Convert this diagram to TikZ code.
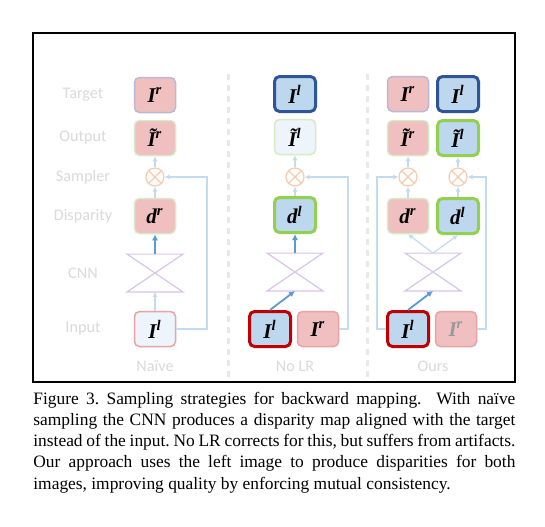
\documentclass[tikz,border=0pt]{standalone}
\usepackage{fontspec}
\setmainfont{Liberation Serif}
\newfontfamily\lblfont{Carlito}
\usetikzlibrary{arrows.meta}
\definecolor{pinkf}{HTML}{F0BFBF}
\definecolor{lbluef}{HTML}{BDD7EE}
\definecolor{palebf}{HTML}{EEF4FB}
\definecolor{greenB}{HTML}{92D050}
\definecolor{paleGB}{HTML}{D6EAC6}
\definecolor{redB}{HTML}{C00000}
\definecolor{lredB}{HTML}{E9A3A3}
\definecolor{dblueB}{HTML}{2F5597}
\definecolor{lavB}{HTML}{B9B9D6}
\definecolor{arrL}{HTML}{C3DBF0}
\definecolor{arrM}{HTML}{5B9BD5}
\definecolor{sampC}{HTML}{F8CBAD}
\definecolor{cnnC}{HTML}{D9C4EA}
\definecolor{lblC}{HTML}{DADADA}
\definecolor{dashC}{HTML}{E8E8E8}
\tikzset{
  imgbox/.style={rounded corners=2.5pt, minimum width=20.5pt, minimum height=17.5pt, inner sep=0pt, line width=0.75pt, font=\fontsize{10.5}{12}\selectfont\bfseries\itshape},
  thickb/.style={line width=1.5pt},
  sampler/.style={circle, draw=sampC, fill=white, line width=0.6pt, minimum size=9pt, inner sep=0pt},
  cnn/.style={minimum width=27.5pt, minimum height=18.5pt, inner sep=0pt},
  rowlbl/.style={font=\lblfont\fontsize{8.1}{9}\selectfont, text=lblC},
  lightarr/.style={draw=arrL, line width=0.6pt, -{Latex[length=2.5pt,width=2.5pt]}},
  medarr/.style={draw=arrM, line width=0.9pt, -{Latex[length=3pt,width=3pt]}},
  sep/.style={draw=dashC, line width=1.5pt, dash pattern=on 3pt off 2.5pt},
}
\newcommand{\drawsampler}[1]{\draw[sampC, line width=0.6pt] (#1.45)--(#1.225) (#1.135)--(#1.315);}
\newcommand{\drawcnn}[1]{\draw[cnnC, line width=0.6pt] (#1.north west)--(#1.north east)--(#1.south west)--(#1.south east)--cycle;}
\begin{document}
\begin{tikzpicture}[x=0.5pt,y=-0.5pt]
\useasboundingbox (0,0) rectangle (545,526);
\fill[white] (0,0) rectangle (545,526);
% frame
\draw[line width=1pt] (33,33) rectangle (515,382);
% separators
\draw[sep] (228,74) -- (228,381);
\draw[sep] (367,74) -- (367,381);
% row labels
\node[rowlbl] (lT) at (83,95) {Target};
\node[rowlbl] (lO) at (83,138) {Output};
\node[rowlbl] (lS) at (83,177) {Sampler};
\node[rowlbl] (lD) at (83,216) {Disparity};
\node[rowlbl] (lC) at (83,273) {CNN};
\node[rowlbl] (lI) at (83,329) {Input};
% column labels
\node[rowlbl] (cN) at (155,366) {Naïve};
\node[rowlbl] (cL) at (295,366) {No LR};
\node[rowlbl] (cO) at (433,366) {Ours};

%%%% Naive
\node[imgbox, draw=lavB, fill=pinkf] (nT) at (155,95) {I\textsuperscript{r}};
\node[imgbox, draw=paleGB, fill=pinkf] (nO) at (155,138) {\~{I}\textsuperscript{r}};
\node[sampler] (nS) at (155,177) {};
\drawsampler{nS}
\node[imgbox, draw=paleGB, fill=pinkf] (nD) at (155,216) {d\textsuperscript{r}};
\node[cnn] (nC) at (155,273) {};
\drawcnn{nC}
\node[imgbox, draw=lredB, fill=palebf] (nI) at (155,329) {I\textsuperscript{l}};
\draw[lightarr] (nI.north) -- (nC.south);
\draw[medarr] (nC.north) -- (nD.south);
\draw[lightarr] (nD.north) -- (nS.south);
\draw[lightarr] (nS.north) -- (nO.south);
\coordinate (nk1) at (207,329);
\coordinate (nk2) at (207,177);
\draw[lightarr] (nI.east) -- (nk1) -- (nk2) -- (nS.east);

%%%% No LR
\node[imgbox, thickb, draw=dblueB, fill=lbluef] (lT2) at (295,94) {I\textsuperscript{l}};
\node[imgbox, draw=paleGB, fill=palebf] (lO2) at (295,137) {\~{I}\textsuperscript{l}};
\node[sampler] (lS2) at (295,177) {};
\drawsampler{lS2}
\node[imgbox, thickb, draw=greenB, fill=lbluef] (lD2) at (295,215) {d\textsuperscript{l}};
\node[cnn] (lC2) at (295,272) {};
\drawcnn{lC2}
\node[imgbox, thickb, draw=redB, fill=lbluef] (lIl) at (270,329) {I\textsuperscript{l}};
\node[imgbox, draw=lredB, fill=pinkf] (lIr) at (318,329) {I\textsuperscript{r}};
\draw[medarr] (lIl.north) -- (lC2.south);
\draw[medarr] (lC2.north) -- (lD2.south);
\draw[lightarr] (lD2.north) -- (lS2.south);
\draw[lightarr] (lS2.north) -- (lO2.south);
\coordinate (lk1) at (348,329);
\coordinate (lk2) at (348,177);
\draw[lightarr] (lIr.east) -- (lk1) -- (lk2) -- (lS2.east);

%%%% Ours
\node[imgbox, draw=lavB, fill=pinkf] (oTr) at (408,94) {I\textsuperscript{r}};
\node[imgbox, thickb, draw=dblueB, fill=lbluef] (oTl) at (458,94) {I\textsuperscript{l}};
\node[imgbox, draw=paleGB, fill=pinkf] (oOr) at (408,138) {\~{I}\textsuperscript{r}};
\node[imgbox, thickb, draw=greenB, fill=lbluef] (oOl) at (458,138) {\~{I}\textsuperscript{l}};
\node[sampler] (oSr) at (408,177) {};
\drawsampler{oSr}
\node[sampler] (oSl) at (458,177) {};
\drawsampler{oSl}
\node[imgbox, draw=paleGB, fill=pinkf] (oDr) at (408,216) {d\textsuperscript{r}};
\node[imgbox, thickb, draw=greenB, fill=lbluef] (oDl) at (458,216) {d\textsuperscript{l}};
\node[cnn] (oC) at (433,272) {};
\drawcnn{oC}
\node[imgbox, thickb, draw=redB, fill=lbluef] (oIl) at (408,329) {I\textsuperscript{l}};
\node[imgbox, draw=lredB, fill=pinkf, text=gray!80] (oIr) at (456,329) {I\textsuperscript{r}};
\draw[medarr] (oIl.north) -- (oC.south);
\draw[lightarr] (oC.north) -- (oDr.south);
\draw[lightarr] (oC.north) -- (oDl.south);
\draw[lightarr] (oDr.north) -- (oSr.south);
\draw[lightarr] (oDl.north) -- (oSl.south);
\draw[lightarr] (oSr.north) -- (oOr.south);
\draw[lightarr] (oSl.north) -- (oOl.south);
\coordinate (ok1) at (377,329);
\coordinate (ok2) at (377,177);
\draw[lightarr] (oIl.west) -- (ok1) -- (ok2) -- (oSr.west);
\coordinate (ok3) at (486,329);
\coordinate (ok4) at (486,177);
\draw[lightarr] (oIr.east) -- (ok3) -- (ok4) -- (oSl.east);

%%%% caption
\node[anchor=base west, inner sep=0pt, text width=241pt, align=justify,
      font=\fontsize{8.7}{10.65}\selectfont] (cap) at (33,404)
{\frenchspacing Figure 3. Sampling strategies for backward mapping.\ \ With naïve\linebreak
sampling the CNN produces a disparity map aligned with the target\linebreak
instead of the input. No LR corrects for this, but suffers from artifacts.\linebreak
Our approach uses the left image to produce disparities for both\linebreak
images, improving quality by enforcing mutual consistency.};
\end{tikzpicture}
\end{document}
